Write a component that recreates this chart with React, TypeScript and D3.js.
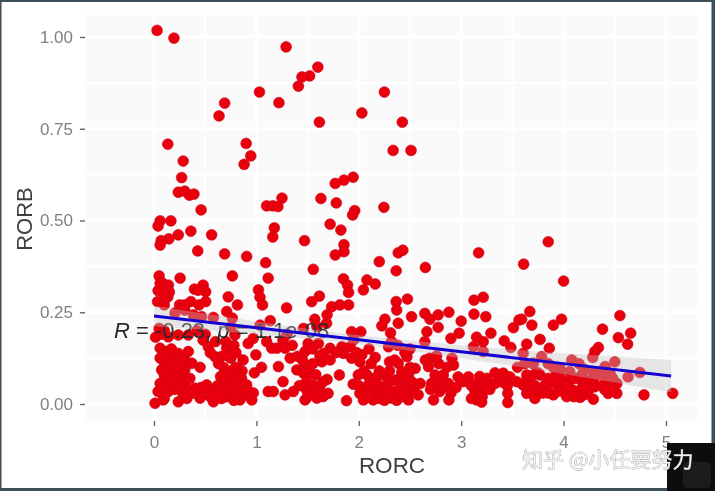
import React, { useEffect, useRef } from 'react';
import * as d3 from 'd3';

// values, same order in both lists
const rorcSparse = [
  0.03, 0.195, 1.29, 1.6, 1.52, 1.445, 1.41, 1.03, 1.22, 0.69, 0.635, 1.615, 2.25, 2.03, 2.425, 2.335, 2.51,
  0.135, 0.9, 0.945, 0.88, 0.285, 0.27, 0.237, 0.3, 0.345, 0.39, 0.46, 0.06, 0.04, 0.165, 0.237, 0.145, 0.07, 0.06,
  0.36, 0.563, 0.427, 0.69, 0.905, 1.09, 1.1, 1.16, 1.175, 1.16, 1.945, 1.855, 1.77, 1.25, 1.21, 1.63, 1.78, 2.245,
  1.96, 1.94, 1.72, 1.825, 1.47, 1.855, 1.855, 1.77, 2.385, 2.43, 2.2, 1.555, 2.365, 2.65, 3.85, 3.17, 3.61, 4.0,
  // middle, left
  0.05, 0.255, 0.765, 1.115, 0.14, 0.06, 0.04, 0.135, 0.035, 0.395, 0.48, 0.505, 0.505, 0.36, 0.725, 0.815, 1.02,
  1.035, 1.06, 0.71, 0.765, 0.3, 0.385, 0.205, 0.58, 0.465, 1.135, 1.035, 0.05, 0.015, 0.14, 0.237, 0.335, 0.48,
  0.53, 0.79, 0.71, 0.595, 0.97, 0.92, 1.1, 1.15, 0.995, 0.87, 1.05, 0.98, 0.75,
  // bottom, left
  0.06, 0.125, 0.06, 0.105, 0.175, 0.237, 0.335, 0.3, 0.37, 0.45, 0.075, 0.14, 0.22, 0.3, 0.105, 0.19, 0.255, 0.06,
  0.04, 0.14, 0.01, 0.237, 0.32, 0.4, 0.515, 0.45, 0.58, 0.4, 0.595, 0.69, 0.775, 0.855, 0.725, 0.81, 0.905, 0.71,
  0.84, 0.955, 0.645, 0.74, 0.89, 1.115, 1.165, 0.09,
  // x from 1.2 to 2.4
  1.85, 1.89, 1.9, 2.08, 2.16, 2.045, 1.295, 1.615, 1.54, 1.9, 1.815, 1.735, 1.69, 2.365, 2.37, 2.255, 2.225, 2.385,
  2.31, 1.57, 1.685, 1.59, 1.46, 1.93, 2.02, 1.26, 1.2, 1.28, 1.33, 1.215, 1.505, 1.605, 1.475, 1.72, 1.655, 1.64,
  1.835, 1.915, 1.85, 1.93, 2.03, 2.01, 2.16, 2.3, 2.29, 2.385, 1.395, 1.475, 1.525, 1.46, 1.81, 1.69, 1.26, 1.28,
  1.36, 1.49, 1.555, 1.49, 1.475, 1.62, 1.7, 1.59, 1.88, 1.945, 1.995, 2.08, 2.175, 2.27, 2.355, 2.01, 2.08, 2.14,
  2.225, 2.32, 2.355, 2.045, 2.14, 2.24,
  // x from 2.4 to 3.6
  2.475, 2.515, 2.645, 2.695, 2.775, 2.88, 3.0, 2.665, 2.775, 2.98, 2.9, 3.125, 3.215, 3.125, 3.24, 3.51, 3.565,
  3.29, 3.15, 3.215, 3.42, 3.485, 3.12, 2.645, 3.215, 2.47, 2.695, 2.76, 2.68, 2.91, 2.925, 2.86, 2.42, 2.55, 2.485,
  2.45, 2.6, 2.485, 2.58, 2.515, 2.745, 2.825, 2.71, 2.875, 2.79, 2.73, 2.88, 2.97, 3.07, 3.02, 3.15, 3.23, 3.33,
  3.135, 3.205, 3.15, 3.205, 3.33, 3.41, 3.475, 3.54, 3.605, 3.455, 3.455,
  // x above 3.6
  3.67, 3.59, 3.69, 3.98, 3.9, 4.55, 4.38, 4.655, 4.535, 4.625, 3.64, 3.77, 3.86, 4.34, 4.305, 4.285, 4.5, 4.08,
  3.705, 3.785, 3.605, 4.405, 4.29, 4.455, 4.63, 4.745, 3.965, 4.06, 4.785, 5.065, 4.29, 4.16, 4.435, 4.52, 4.435,
  4.52, 4.305, 4.225, 4.175, 4.095, 4.06, 3.98, 3.965, 3.9, 3.9, 3.77, 3.82, 3.75, 3.64, 3.64, 3.59, 3.705, 3.67,
  4.145, 4.19, 4.0,
];

const rorbSparse = [
  1.018, 0.997, 0.973, 0.918, 0.894, 0.891, 0.866, 0.85, 0.821, 0.82, 0.785, 0.768, 0.85, 0.793, 0.768, 0.691, 0.691,
  0.708, 0.71, 0.676, 0.653, 0.662, 0.617, 0.577, 0.58, 0.569, 0.572, 0.529, 0.499, 0.485, 0.499, 0.461, 0.45, 0.445, 0.433,
  0.471, 0.461, 0.417, 0.409, 0.402, 0.385, 0.54, 0.54, 0.48, 0.455, 0.618, 0.61, 0.601, 0.561, 0.538, 0.56, 0.548, 0.536,
  0.527, 0.515, 0.49, 0.474, 0.445, 0.434, 0.415, 0.406, 0.412, 0.419, 0.388, 0.367, 0.363, 0.372, 0.442, 0.412, 0.381, 0.335,
  // middle, left
  0.349, 0.343, 0.349, 0.343, 0.324, 0.329, 0.309, 0.292, 0.279, 0.313, 0.324, 0.306, 0.279, 0.279, 0.292, 0.27, 0.311,
  0.291, 0.27, 0.252, 0.234, 0.256, 0.243, 0.248, 0.236, 0.238, 0.227, 0.215, 0.206, 0.182, 0.183, 0.188, 0.188, 0.174,
  0.156, 0.188, 0.152, 0.129, 0.179, 0.165, 0.17, 0.152, 0.134, 0.12, 0.1, 0.085, 0.125,
  // bottom, left
  0.152, 0.143, 0.125, 0.111, 0.129, 0.138, 0.143, 0.12, 0.111, 0.1, 0.093, 0.084, 0.093, 0.093, 0.065, 0.061, 0.074, 0.056,
  0.034, 0.034, 0.002, 0.006, 0.043, 0.043, 0.052, 0.016, 0.006, 0.034, 0.038, 0.065, 0.079, 0.07, 0.043, 0.052, 0.052, 0.02,
  0.011, 0.011, 0.029, 0.029, 0.025, 0.034, 0.034, 0.011,
  // x from 1.2 to 2.4
  0.341, 0.324, 0.304, 0.338, 0.327, 0.311, 0.262, 0.294, 0.279, 0.27, 0.27, 0.265, 0.243, 0.279, 0.256, 0.231, 0.213, 0.22,
  0.194, 0.231, 0.22, 0.211, 0.206, 0.197, 0.197, 0.174, 0.152, 0.152, 0.125, 0.102, 0.165, 0.165, 0.143, 0.152, 0.138, 0.115,
  0.156, 0.156, 0.138, 0.125, 0.134, 0.115, 0.127, 0.115, 0.156, 0.111, 0.093, 0.106, 0.084, 0.084, 0.079, 0.067, 0.061, 0.025,
  0.034, 0.061, 0.052, 0.038, 0.011, 0.038, 0.029, 0.016, 0.009, 0.054, 0.079, 0.079, 0.074, 0.074, 0.065, 0.029, 0.043, 0.034,
  0.025, 0.016, 0.034, 0.011, 0.011, 0.043,
  // x from 2.4 to 3.6
  0.286, 0.238, 0.247, 0.231, 0.243, 0.25, 0.226, 0.197, 0.209, 0.193, 0.179, 0.283, 0.291, 0.245, 0.238, 0.208, 0.229,
  0.193, 0.182, 0.17, 0.172, 0.154, 0.156, 0.17, 0.143, 0.129, 0.125, 0.131, 0.102, 0.125, 0.106, 0.1, 0.088, 0.097, 0.079,
  0.052, 0.056, 0.011, 0.025, 0.034, 0.079, 0.079, 0.056, 0.056, 0.034, 0.011, 0.011, 0.074, 0.074, 0.061, 0.056, 0.056, 0.056,
  0.034, 0.034, 0.011, 0.02, 0.085, 0.084, 0.074, 0.061, 0.052, 0.029, 0.004,
  // x above 3.6
  0.252, 0.231, 0.215, 0.231, 0.215, 0.241, 0.204, 0.193, 0.181, 0.163, 0.163, 0.176, 0.152, 0.154, 0.143, 0.127, 0.115, 0.12,
  0.111, 0.129, 0.138, 0.102, 0.085, 0.082, 0.074, 0.086, 0.097, 0.088, 0.025, 0.029, 0.013, 0.018, 0.029, 0.029, 0.056,
  0.056, 0.047, 0.063, 0.038, 0.038, 0.065, 0.056, 0.074, 0.025, 0.056, 0.079, 0.052, 0.029, 0.029, 0.079, 0.056, 0.079, 0.034,
  0.07, 0.052, 0.034,
];

// estimates inside the solid clusters, where single dots cannot be told apart
const rorcDense = [
  0.1, 0.17, 0.22, 0.26, 0.15, 0.1, 0.18, 0.27, 0.12, 0.08, 0.2, 0.25, 0.1, 0.3, 0.35, 0.38, 0.28, 0.32, 0.5, 0.46, 0.55,
  0.62, 0.66, 0.78, 0.8, 0.7, 0.75, 0.83, 0.87, 0.92, 0.77, 0.65, 0.97, 0.68, 0.72, 0.86, 0.78, 0.8,
  0.42, 0.5, 0.55, 0.6, 0.66, 0.63, 0.7, 0.73, 0.78, 0.8, 0.75, 0.1, 0.15, 0.1, 0.08, 0.3, 0.25, 0.43, 0.44, 0.07, 0.1,
  1.3, 1.35, 1.4, 1.45, 1.55, 1.62, 1.55, 1.58, 1.65, 1.55, 1.65, 1.5, 1.42, 1.72, 1.78, 1.95, 1.98, 2.1, 2.12, 2.05,
  2.2, 2.2, 2.28, 2.3, 2.2, 2.1, 2.15, 2.0, 2.05, 2.1, 2.25, 2.3, 2.4, 2.4, 2.37, 2.42, 2.45, 2.52, 2.55, 2.5, 2.35,
  2.45, 2.38, 2.32, 2.5, 2.78, 2.85, 2.95, 2.7, 2.75, 2.77, 2.9, 2.65, 3.1, 3.18, 3.25, 3.28, 3.1, 3.2, 3.4, 3.45, 3.38,
  3.62, 3.66, 3.72, 3.72, 3.8, 3.85, 3.85, 3.93, 3.95, 4.03, 4.03, 4.1, 4.1, 4.18, 4.2, 4.25, 4.3, 4.38, 4.48, 4.48,
  4.4, 3.7, 3.85, 3.9, 4.15, 4.2, 4.35, 4.4, 3.55, 3.62, 3.75,
];

const rorbDense = [
  0.13, 0.15, 0.115, 0.1, 0.105, 0.08, 0.075, 0.125, 0.05, 0.03, 0.04, 0.045, 0.015, 0.065, 0.07, 0.03, 0.03, 0.015, 0.03, 0.045, 0.02,
  0.05, 0.015, 0.01, 0.03, 0.05, 0.07, 0.075, 0.03, 0.035, 0.05, 0.075, 0.03, 0.1, 0.085, 0.09, 0.095, 0.1,
  0.2, 0.19, 0.14, 0.17, 0.13, 0.11, 0.17, 0.13, 0.16, 0.14, 0.21, 0.27, 0.305, 0.3, 0.33, 0.27, 0.27, 0.31, 0.27, 0.19, 0.2,
  0.19, 0.16, 0.13, 0.12, 0.15, 0.13, 0.11, 0.08, 0.06, 0.03, 0.02, 0.02, 0.05, 0.12, 0.14, 0.175, 0.14, 0.15, 0.11, 0.09,
  0.09, 0.05, 0.05, 0.03, 0.015, 0.055, 0.055, 0.05, 0.025, 0.02, 0.01, 0.09, 0.07, 0.04, 0.01, 0.02, 0.03, 0.06, 0.05, 0.1, 0.12,
  0.14, 0.16, 0.17, 0.15, 0.11, 0.05, 0.045, 0.04, 0.055, 0.06, 0.03, 0.12, 0.05, 0.075, 0.07, 0.04, 0.015, 0.005, 0.06, 0.05, 0.07,
  0.05, 0.055, 0.05, 0.015, 0.03, 0.07, 0.03, 0.08, 0.035, 0.05, 0.02, 0.07, 0.02, 0.08, 0.025, 0.04, 0.07, 0.05, 0.04, 0.07,
  0.04, 0.11, 0.11, 0.1, 0.11, 0.095, 0.085, 0.075, 0.1, 0.11, 0.085,
];

const rorc = [...rorcSparse, ...rorcDense];
const rorb = [...rorbSparse, ...rorbDense];

// fitted line and its confidence band
const fitRorc = [0, 1, 2, 3, 4, 5.05];
const fitRorb = [0.24, 0.2075, 0.175, 0.1425, 0.11, 0.076];
const bandUpper = [0.268, 0.225, 0.187, 0.16, 0.138, 0.12];
const bandLower = [0.212, 0.19, 0.163, 0.125, 0.082, 0.032];

const xTicks = [0, 1, 2, 3, 4, 5];
const yTicks = [0, 0.25, 0.5, 0.75, 1];
const xMinor = [0.5, 1.5, 2.5, 3.5, 4.5];
const yMinor = [0.125, 0.375, 0.625, 0.875];

const width = 715;
const height = 491;

export default function App() {
  const svgRef = useRef<SVGSVGElement>(null);

  useEffect(() => {
    if (!svgRef.current) return;
    const svg = d3.select(svgRef.current);
    svg.selectAll('*').remove();

    svg.append('defs').append('filter').attr('id', 'soft')
      .append('feGaussianBlur').attr('stdDeviation', 0.55);

    const root = svg.append('g').attr('filter', 'url(#soft)');
    root.append('rect').attr('width', width).attr('height', height).attr('fill', '#fff');

    const x = d3.scaleLinear().domain([0, 5]).range([154, 666]);
    const y = d3.scaleLinear().domain([0, 1]).range([404, 37]);
    const panel = { left: 85, right: 697, top: 15, bottom: 421 };

    root.append('rect')
      .attr('x', panel.left)
      .attr('y', panel.top)
      .attr('width', panel.right - panel.left)
      .attr('height', panel.bottom - panel.top)
      .attr('fill', '#fafafb');

    // Grid
    const grid = root.append('g').attr('stroke', '#fff');
    grid.selectAll('.vmajor').data([...xTicks, ...xMinor]).enter().append('line')
      .attr('x1', d => x(d)).attr('x2', d => x(d))
      .attr('y1', panel.top).attr('y2', panel.bottom)
      .attr('stroke-width', d => (xTicks.includes(d) ? 3 : 2));
    grid.selectAll('.hmajor').data([...yTicks, ...yMinor]).enter().append('line')
      .attr('y1', d => y(d)).attr('y2', d => y(d))
      .attr('x1', panel.left).attr('x2', panel.right)
      .attr('stroke-width', d => (yTicks.includes(d) ? 3 : 2));

    // Axes
    const xAxis = root.append('g')
      .attr('transform', `translate(0,${panel.bottom})`)
      .call(d3.axisBottom(x).tickValues(xTicks).tickFormat(d3.format('d')).tickSize(5).tickPadding(10));
    const yAxis = root.append('g')
      .attr('transform', `translate(${panel.left},0)`)
      .call(d3.axisLeft(y).tickValues(yTicks).tickFormat(d3.format('.2f')).tickSize(5).tickPadding(7));
    [xAxis, yAxis].forEach(a => {
      a.select('.domain').remove();
      a.selectAll('line').attr('stroke', '#666').attr('stroke-width', 1.4);
      a.selectAll('text')
        .attr('fill', '#808080')
        .style('font-family', '"Liberation Sans", Arial, sans-serif')
        .style('font-size', '17px');
    });

    root.append('text')
      .attr('x', 392).attr('y', 473)
      .attr('text-anchor', 'middle')
      .attr('fill', '#3f3f3f')
      .style('font-family', '"Liberation Sans", Arial, sans-serif')
      .style('font-size', '22.5px')
      .text('RORC');
    root.append('text')
      .attr('transform', 'translate(32,219) rotate(-90)')
      .attr('text-anchor', 'middle')
      .attr('fill', '#3f3f3f')
      .style('font-family', '"Liberation Sans", Arial, sans-serif')
      .style('font-size', '22px')
      .text('RORB');

    // Points
    root.append('g').selectAll('circle')
      .data(rorc)
      .enter()
      .append('circle')
      .attr('cx', d => x(d))
      .attr('cy', (d, i) => y(rorb[i]))
      .attr('r', 5.4)
      .attr('fill', '#ea0010')
      .attr('stroke', '#cc0012')
      .attr('stroke-width', 0.6);

    // Correlation label
    const label = root.append('text')
      .attr('x', 114).attr('y', 338)
      .attr('fill', '#2a2a2a')
      .style('font-family', '"Liberation Sans", Arial, sans-serif')
      .style('font-size', '22px');
    label.append('tspan').attr('font-style', 'italic').text('R');
    label.append('tspan').text(' = -0.23, ');
    label.append('tspan').attr('font-style', 'italic').text('p');
    label.append('tspan').text(' = 1.1e-08');

    // Band and fit
    const band = d3.area<number>()
      .x(d => x(d))
      .y0((d, i) => y(bandLower[i]))
      .y1((d, i) => y(bandUpper[i]))
      .curve(d3.curveMonotoneX);
    root.append('path')
      .datum(fitRorc)
      .attr('d', band)
      .attr('fill', '#c0c0c0')
      .attr('fill-opacity', 0.37);

    const fit = d3.line<number>()
      .x(d => x(d))
      .y((d, i) => y(fitRorb[i]));
    root.append('path')
      .datum(fitRorc)
      .attr('d', fit)
      .attr('fill', 'none')
      .attr('stroke', '#1400d2')
      .attr('stroke-width', 3);

    // Frame of the screenshot
    const frame = root.append('g').attr('fill', '#3e4f58');
    frame.append('rect').attr('width', width).attr('height', 2);
    frame.append('rect').attr('width', 1.5).attr('height', height);
    frame.append('rect').attr('x', 711.5).attr('width', 3.5).attr('height', height);
    frame.append('rect').attr('y', 488).attr('width', width).attr('height', 3);

    // Corner box and watermark
    root.append('rect').attr('x', 667).attr('y', 443).attr('width', 48).attr('height', 48).attr('fill', '#0a0a0a');
    root.append('rect').attr('x', 683).attr('y', 462).attr('width', 28).attr('height', 26).attr('rx', 5).attr('fill', '#1c1c1c');
    root.append('text')
      .attr('x', 522).attr('y', 467)
      .attr('fill', '#f0f0f0')
      .attr('stroke', '#9a9a9a')
      .attr('stroke-width', 0.7)
      .attr('paint-order', 'stroke')
      .style('font-family', '"Noto Sans CJK SC", sans-serif')
      .style('font-size', '21px')
      .text('知乎 @小任要努力');
  }, []);

  return (
    <svg
      ref={svgRef}
      width={width}
      height={height}
      style={{ position: 'absolute', left: 0, top: 0 }}
    />
  );
}
